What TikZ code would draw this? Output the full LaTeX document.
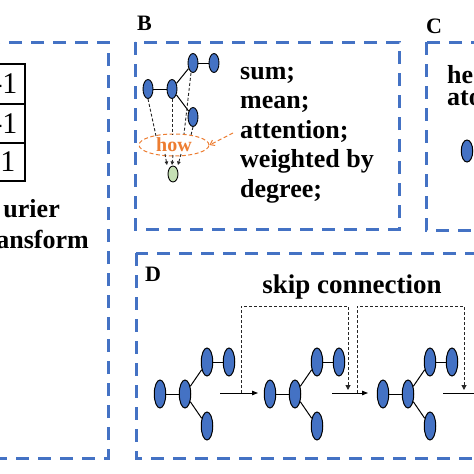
\documentclass[tikz,border=0pt]{standalone}
\usepackage{fontspec}
\setmainfont{Liberation Serif}
\usetikzlibrary{arrows.meta,shapes.geometric}
\definecolor{boxblue}{RGB}{68,114,196}
\definecolor{nodeblue}{RGB}{68,114,196}
\definecolor{howorange}{RGB}{237,125,49}
\definecolor{lightgreen}{RGB}{197,224,180}
\begin{document}
\begin{tikzpicture}[x=1pt,y=-1pt,
  panel/.style={draw=boxblue,line width=3pt,dash pattern=on 13pt off 9pt},
  gn/.style={ellipse,draw=black,line width=1pt,fill=nodeblue,minimum width=11.5pt,minimum height=28pt,inner sep=0pt},
  bn/.style={ellipse,draw=black,line width=0.9pt,fill=nodeblue,minimum width=10pt,minimum height=19pt,inner sep=0pt},
  edge/.style={draw=black,line width=1pt},
  bigtxt/.style={font=\fontsize{26}{29}\selectfont\bfseries,inner sep=0pt},
  lbl/.style={font=\fontsize{22}{24}\selectfont\bfseries,inner sep=0pt,anchor=base west},
  numtxt/.style={font=\fontsize{30}{32}\selectfont,inner sep=0pt},
  arr/.style={draw=black,line width=1pt,-{Triangle[length=6pt,width=4.5pt]}},
  skipline/.style={draw=black!85,line width=1pt,dash pattern=on 3pt off 2pt,-{Triangle[length=5pt,width=5pt]}},
  bdash/.style={draw=black!85,line width=0.9pt,dash pattern=on 3pt off 2pt},
  cell/.style={draw=black,line width=1.5pt}
]
\useasboundingbox (0,0) rectangle (474,474);
\clip (0,0) rectangle (474,474);
\fill[white] (0,0) rectangle (474,474);

% ---------- Panel A ----------
\draw[panel] (-30,42) rectangle (108,458);
\draw[cell] (-30,64) rectangle (25,104);
\draw[cell] (-30,104) rectangle (25,143);
\draw[cell] (-30,143) rectangle (25,181);
\node[numtxt] (a1) at (5,84) {-1};
\node[numtxt] (a2) at (5,123.5) {-1};
\node[numtxt] (a3) at (8,162) {1};
\node[bigtxt,anchor=base east] (aft1) at (60,217) {urier};
\node[bigtxt,anchor=base east] (aft2) at (89,248) {ansform};

% ---------- Panel B ----------
\node[lbl] (lb) at (137,30) {B};
\draw[panel] (135,42) rectangle (399,229);
\node[bn] (ba) at (148,89) {};
\node[bn] (bb) at (172,89) {};
\node[bn] (bc) at (193,63) {};
\node[bn] (bd) at (214,63) {};
\node[bn] (be) at (193,117) {};
\draw[edge] (ba) -- (bb);
\draw[edge] (bb) -- (bc);
\draw[edge] (bc) -- (bd);
\draw[edge] (bb) -- (be);
\node[ellipse,draw=howorange,line width=1pt,dash pattern=on 4pt off 2.5pt,minimum width=70pt,minimum height=22pt,inner sep=0pt,
      text=howorange,font=\fontsize{20}{22}\selectfont\bfseries] (how) at (174,145) {how};
\node[ellipse,draw=black,line width=0.9pt,fill=lightgreen,minimum width=10pt,minimum height=16pt,inner sep=0pt] (green) at (173,174) {};
\coordinate (ha) at (156,136);
\coordinate (hb) at (172,134);
\coordinate (hc) at (184,134);
\coordinate (hd) at (191,135);
\draw[bdash] (ba.south) -- (ha);
\draw[bdash] (bb.south) -- (hb);
\draw[bdash] ([xshift=-2pt]bc.south) -- (hc);
\draw[bdash] (be.south) -- (hd);
\coordinate (s1a) at (165,154);
\coordinate (s1b) at (167,165);
\coordinate (s2a) at (173,155);
\coordinate (s2b) at (172,165);
\coordinate (s3a) at (181,154);
\coordinate (s3b) at (178,165);
\draw[bdash,-{Triangle[length=3.5pt,width=3.5pt]}] (s1a) -- (s1b);
\draw[bdash,-{Triangle[length=3.5pt,width=3.5pt]}] (s2a) -- (s2b);
\draw[bdash,-{Triangle[length=3.5pt,width=3.5pt]}] (s3a) -- (s3b);
\coordinate (ostart) at (233,133);
\draw[draw=howorange,line width=1pt,dash pattern=on 4pt off 2.5pt,-{Straight Barb[length=4pt,width=6pt]}] (ostart) -- (how.east);
\node[bigtxt,anchor=base west] (t1) at (240,79) {sum;};
\node[bigtxt,anchor=base west] (t2) at (240,108.5) {mean;};
\node[bigtxt,anchor=base west] (t3) at (240,138) {attention;};
\node[bigtxt,anchor=base west] (t4) at (240,167.5) {weighted by};
\node[bigtxt,anchor=base west] (t5) at (240,197) {degree;};

% ---------- Panel C ----------
\node[lbl] (lc) at (426,33) {C};
\draw[panel] (426,42) rectangle (520,230);
\node[font=\fontsize{26}{22}\selectfont\bfseries,inner sep=0pt,align=left,anchor=base west] (ctxt) at (447,105) {he\\ato};
\node[ellipse,draw=black,line width=1pt,fill=nodeblue,minimum width=11.5pt,minimum height=22pt,inner sep=0pt] (cn) at (467,151) {};

% ---------- Panel D ----------
\draw[panel] (136,253) rectangle (520,458);
\node[lbl] (ld) at (145,281) {D};
\node[font=\fontsize{27}{29}\selectfont\bfseries,inner sep=0pt,anchor=base] (skiptxt) at (352,293) {skip connection};
\foreach \g/\ox in {1/0,2/110,3/223}{
  \node[gn] (g\g-a) at (160+\ox,394) {};
  \node[gn] (g\g-b) at (185+\ox,394) {};
  \node[gn] (g\g-c) at (207+\ox,362) {};
  \node[gn] (g\g-d) at (229+\ox,362) {};
  \node[gn] (g\g-e) at (207+\ox,426) {};
  \draw[edge] (g\g-a) -- (g\g-b);
  \draw[edge] (g\g-b) -- (g\g-c);
  \draw[edge] (g\g-c) -- (g\g-d);
  \draw[edge] (g\g-b) -- (g\g-e);
}
\coordinate (r1s) at (220,393);
\coordinate (r1e) at (258,393);
\coordinate (r2s) at (332,393);
\coordinate (r2e) at (368,393);
\coordinate (r3s) at (443,393);
\coordinate (r3e) at (490,393);
\draw[arr] (r1s) -- (r1e);
\draw[arr] (r2s) -- (r2e);
\draw[arr] (r3s) -- (r3e);
\coordinate (k1s) at (241,393);
\coordinate (k1e) at (348,390);
\coordinate (k2s) at (357,393);
\coordinate (k2e) at (464,390);
\draw[skipline] (k1s) -- (241,306) -- (348,306) -- (k1e);
\draw[skipline] (k2s) -- (357,306) -- (464,306) -- (k2e);
\end{tikzpicture}
\end{document}
